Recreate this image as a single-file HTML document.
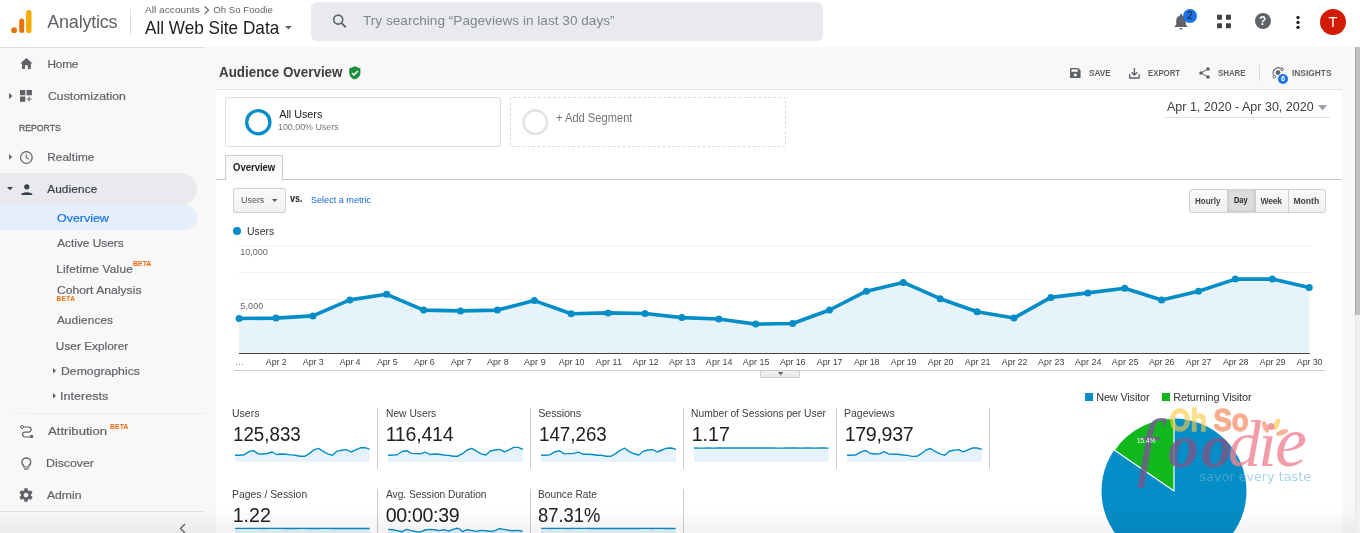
<!DOCTYPE html>
<html><head><meta charset="utf-8">
<style>
*{box-sizing:border-box;margin:0;padding:0}
html,body{width:1360px;height:533px;overflow:hidden}
body{position:relative;background:#f8f8f8;font-family:"Liberation Sans",Arial,sans-serif;color:#3c4043}
.a{position:absolute}
.t{position:absolute;white-space:nowrap;transform-origin:0 0}
svg{position:absolute;overflow:visible}
</style></head>
<body>
<!-- HEADER -->
<div class="a" style="left:0;top:0;width:1360px;height:47px;background:#fff"></div>
<svg style="left:0;top:0" width="40" height="40" viewBox="0 0 40 40">
  <circle cx="14.1" cy="30.2" r="2.9" fill="#e8710a"/>
  <rect x="19.2" y="18.6" width="5" height="14.5" rx="2.5" fill="#e8710a"/>
  <rect x="26.1" y="10" width="5.4" height="23.1" rx="2.7" fill="#f9ab00"/>
</svg>
<div class="a" style="left:130px;top:9px;width:1px;height:25px;background:#dadce0"></div>
<svg style="left:204.3px;top:5.5px" width="6" height="9" viewBox="0 0 6 9"><path d="M0.7 0.5 L4.6 4.2 L0.7 7.9" stroke="#5f6368" stroke-width="1.15" fill="none"/></svg>
<svg style="left:284.7px;top:26.4px" width="7" height="4" viewBox="0 0 7 4"><path d="M0 0 L6.9 0 L3.45 3.4Z" fill="#5f6368"/></svg>
<div class="a" style="left:311px;top:2px;width:512px;height:39px;background:#e8eaed;border-radius:6px"></div>
<svg style="left:331px;top:13px" width="17" height="17" viewBox="0 0 17 17"><circle cx="7.2" cy="6.6" r="4.5" stroke="#5f6368" stroke-width="1.6" fill="none"/><path d="M10.4 9.9 L14.8 14.4" stroke="#5f6368" stroke-width="1.8"/></svg>
<!-- right icons -->
<svg style="left:1171.3px;top:11.6px" width="20" height="20" viewBox="0 0 20 20"><path d="M10 17.5c.9 0 1.6-.7 1.6-1.6H8.4c0 .9.7 1.6 1.6 1.6zm4.8-4.8v-4c0-2.5-1.3-4.5-3.6-5V3.2c0-.7-.5-1.2-1.2-1.2s-1.2.5-1.2 1.2v.5C6.5 4.2 5.2 6.2 5.2 8.7v4L3.6 14.3v.8h12.8v-.8l-1.6-1.6z" fill="#5f6368"/></svg>
<div class="a" style="left:1183px;top:9px;width:14px;height:14px;border-radius:50%;background:#1a73e8;color:#202124;font-size:10px;line-height:14px;text-align:center">2</div>
<svg style="left:1216px;top:14px" width="16" height="16" viewBox="0 0 16 16"><g fill="#3c4043"><rect x="1.1" y="0.8" width="4.8" height="5" rx=".5"/><rect x="10" y="0.8" width="4.9" height="5" rx=".5"/><rect x="1.1" y="9.3" width="4.8" height="5" rx=".5"/><rect x="10" y="9.3" width="4.9" height="5" rx=".5"/></g></svg>
<div class="a" style="left:1254.6px;top:13.4px;width:16px;height:16px;border-radius:50%;background:#5f6368;color:#fff;font-size:12px;font-weight:bold;line-height:16px;text-align:center">?</div>
<svg style="left:1293.7px;top:14px" width="8" height="16"><circle cx="4" cy="3.5" r="1.65" fill="#202124"/><circle cx="4" cy="8.4" r="1.65" fill="#202124"/><circle cx="4" cy="13.3" r="1.65" fill="#202124"/></svg>
<div class="a" style="left:1320px;top:8.6px;width:26px;height:26px;border-radius:50%;background:#d21b05;color:#fff;font-size:14.5px;line-height:26px;text-align:center">T</div>

<!-- SIDEBAR -->
<div class="a" style="left:0;top:47px;width:204px;height:486px;background:#f8f8f9;border-top:1px solid #dadce0"></div>
<div class="a" style="left:0;top:173px;width:197px;height:31.6px;background:#e8eaed;border-radius:0 16px 16px 0"></div>
<div class="a" style="left:0;top:204.8px;width:197px;height:25.2px;background:#e5effe;border-radius:0 13px 13px 0"></div>
<div class="a" style="left:0;top:413.4px;width:204px;height:1px;background:linear-gradient(90deg,rgba(232,234,237,0),#e8eaed 45px)"></div>
<div class="a" style="left:0;top:511px;width:204px;height:1px;background:#e0e1e2"></div>
<!-- sidebar icons -->
<svg style="left:20px;top:58px" width="13" height="12" viewBox="0 0 13 12"><path d="M6.4 0 L12.6 5.6 L10.8 5.6 L10.8 11 L7.8 11 L7.8 7.2 L5 7.2 L5 11 L2 11 L2 5.6 L0.2 5.6Z" fill="#5f6368"/></svg>
<svg style="left:9px;top:93px" width="4" height="6"><path d="M0 0 L3.5 3 L0 6Z" fill="#5f6368"/></svg>
<svg style="left:20px;top:90px" width="13" height="12" viewBox="0 0 13 12"><rect x="0" y="0" width="5.3" height="5.3" fill="#5f6368"/><rect x="6.6" y="0" width="5.3" height="5.3" fill="#5f6368"/><rect x="0" y="6.5" width="5.3" height="5.3" fill="#5f6368"/><path d="M9.2 6.7 V11.5 M6.8 9.1 H11.6" stroke="#5f6368" stroke-width="1"/></svg>
<svg style="left:9px;top:154px" width="4" height="6"><path d="M0 0 L3.2 2.9 L0 5.8Z" fill="#5f6368"/></svg>
<svg style="left:20px;top:150.5px" width="13" height="13" viewBox="0 0 13 13"><circle cx="6.4" cy="6.5" r="5.8" stroke="#5f6368" stroke-width="1.2" fill="none"/><path d="M6.2 3.2 V6.8 L8.8 8.4" stroke="#5f6368" stroke-width="1.1" fill="none"/></svg>
<svg style="left:7px;top:187px" width="7" height="4"><path d="M0 0 L6 0 L3 3.2Z" fill="#3c4043"/></svg>
<svg style="left:20.5px;top:183.5px" width="12" height="12" viewBox="0 0 12 12"><circle cx="5.8" cy="2.8" r="2.6" fill="#3c4043"/><path d="M0.4 11 C0.4 7.4 11.2 7.4 11.2 11 Z" fill="#3c4043"/><rect x="0.4" y="9.6" width="10.8" height="1.4" fill="#3c4043"/></svg>
<svg style="left:52.5px;top:367.5px" width="4" height="6"><path d="M0 0 L3 2.8 L0 5.6Z" fill="#5f6368"/></svg>
<svg style="left:52.5px;top:393px" width="4" height="6"><path d="M0 0 L3 2.8 L0 5.6Z" fill="#5f6368"/></svg>
<svg style="left:19.5px;top:424.5px" width="14" height="13" viewBox="0 0 14 13"><circle cx="2" cy="2" r="1.5" stroke="#5f6368" stroke-width="1" fill="none"/><path d="M3.5 2 H8.5 A2.6 2.6 0 0 1 8.5 7.2 H5 A2.4 2.4 0 0 0 5 12 H10.5" stroke="#5f6368" stroke-width="1.2" fill="none"/><circle cx="11.6" cy="11.4" r="1.7" fill="#5f6368"/></svg>
<svg style="left:20.5px;top:457px" width="11" height="13" viewBox="0 0 11 13"><path d="M5.3 0.8 A4.4 4.4 0 0 1 7.8 8.8 V10 H2.8 V8.8 A4.4 4.4 0 0 1 5.3 0.8Z" stroke="#5f6368" stroke-width="1.2" fill="none"/><path d="M3 12 H7.6" stroke="#5f6368" stroke-width="1.2"/></svg>
<svg style="left:18.4px;top:486.6px" width="16" height="16" viewBox="0 0 24 24"><path d="M19.4 13c.04-.3.06-.6.06-1s-.02-.7-.06-1l2.1-1.6c.2-.15.25-.4.12-.6l-2-3.5c-.12-.22-.38-.3-.6-.22l-2.5 1c-.52-.4-1.08-.73-1.7-.98l-.38-2.65C14.4 2.2 14.2 2 14 2h-4c-.25 0-.46.18-.5.42l-.37 2.65c-.62.25-1.18.59-1.7.98l-2.5-1c-.23-.09-.48 0-.6.22l-2 3.46c-.13.22-.07.47.12.64L4.57 11c-.04.32-.07.65-.07 1s.03.68.07 1l-2.1 1.65c-.2.15-.25.42-.12.64l2 3.46c.12.22.38.3.6.22l2.5-1c.52.4 1.08.73 1.7.98l.37 2.65c.04.24.25.42.5.42h4c.25 0 .46-.18.5-.42l.37-2.65c.62-.25 1.18-.59 1.7-.98l2.5 1c.23.09.48 0 .6-.22l2-3.46c.12-.22.07-.49-.12-.64L19.4 13zM12 15.5c-1.93 0-3.5-1.57-3.5-3.5s1.57-3.5 3.5-3.5 3.5 1.57 3.5 3.5-1.57 3.5-3.5 3.5z" fill="#5f6368"/></svg>
<svg style="left:179px;top:523.2px" width="8" height="11"><path d="M6 1 L1.5 5.5 L6 10" stroke="#5f6368" stroke-width="1.4" fill="none"/></svg>

<!-- MAIN -->
<svg style="left:349px;top:66px" width="12" height="14" viewBox="0 0 12 14"><path d="M5.8 0.3 L11.4 2.6 V6.6 C11.4 10 9 12.6 5.8 13.4 C2.6 12.6 0.2 10 0.2 6.6 V2.6Z" fill="#1e8e3e"/><path d="M3 7 L5 9 L8.8 5" stroke="#fff" stroke-width="1.5" fill="none"/></svg>
<!-- action icons -->
<svg style="left:1069.5px;top:68px" width="11" height="10" viewBox="0 0 11 10"><path d="M0.6 0 H8.3 L10.6 2.3 V9.4 C10.6 9.7 10.3 10 10 10 H0.6 C0.3 10 0 9.7 0 9.4 V0.6 C0 0.3 0.3 0 0.6 0Z" fill="#5f6368"/><rect x="1.5" y="1.3" width="6.3" height="2.5" fill="#f8f8f8"/><circle cx="5.3" cy="7" r="1.6" fill="#f8f8f8"/></svg>
<svg style="left:1128.5px;top:67.5px" width="11" height="11" viewBox="0 0 11 11"><path d="M0.7 6 V10 H10.1 V6" stroke="#5f6368" stroke-width="1.3" fill="none"/><path d="M5.4 0 V6.8 M2.6 4.2 L5.4 7 L8.2 4.2" stroke="#5f6368" stroke-width="1.3" fill="none"/></svg>
<svg style="left:1198.5px;top:67px" width="12" height="12" viewBox="0 0 12 12"><circle cx="9" cy="2" r="1.8" fill="#5f6368"/><circle cx="2" cy="6" r="1.8" fill="#5f6368"/><circle cx="9" cy="10" r="1.8" fill="#5f6368"/><path d="M9 2 L2 6 L9 10" stroke="#5f6368" stroke-width="1" fill="none"/></svg>
<div class="a" style="left:1259px;top:65px;width:1px;height:15.5px;background:#dadce0"></div>
<svg style="left:1272px;top:67px" width="14" height="14" viewBox="0 0 14 14"><path d="M1.3 7.6 A5.4 5.4 0 0 1 8.7 1.2" stroke="#5f6368" stroke-width="1.1" fill="none"/><circle cx="6" cy="5.6" r="2.4" fill="#5f6368"/><circle cx="10.1" cy="2.3" r="1.3" stroke="#5f6368" stroke-width="1" fill="none"/><circle cx="2.3" cy="9.7" r="1.3" stroke="#5f6368" stroke-width="1" fill="none"/></svg>
<div class="a" style="left:1278px;top:73.7px;width:10px;height:10px;border-radius:50%;background:#1a73e8;color:#fff;font-size:7.5px;font-weight:bold;line-height:10px;text-align:center">6</div>

<!-- white panel -->
<div class="a" style="left:216px;top:89px;width:1126px;height:444px;background:#fff;border-top:1px solid #e3e4e4"></div>
<div class="a" style="left:1355px;top:47px;width:5px;height:486px;background:#f1f1f1;border-left:1px solid #e8e8e8"></div>
<div class="a" style="left:1355px;top:47px;width:5px;height:268px;background:#c1c1c1;border-left:1px solid #a9a9a9"></div>
<!-- segment cards -->
<div class="a" style="left:225px;top:97px;width:275.5px;height:49.5px;border:1px solid #dcdedf;border-radius:3px"></div>
<svg style="left:244px;top:108px" width="29" height="29"><circle cx="14.3" cy="14.2" r="11.6" stroke="#058dc7" stroke-width="3.3" fill="none"/></svg>
<div class="a" style="left:509.5px;top:97px;width:276px;height:49.5px;border:1px dashed #dadce0;border-radius:3px"></div>
<svg style="left:521px;top:108px" width="29" height="29"><circle cx="14.3" cy="14.2" r="11.8" stroke="#e3e5e4" stroke-width="2.6" fill="none"/></svg>
<svg style="left:1318px;top:104.5px" width="10" height="6"><path d="M0.2 0 L9 0 L4.6 5.6Z" fill="#9aa0a6"/></svg>
<div class="a" style="left:1165px;top:117px;width:165px;height:1px;background:#e0e0e0"></div>
<!-- tab -->
<div class="a" style="left:216px;top:179px;width:1126px;height:1px;background:#c6c6c6"></div>
<div class="a" style="left:225px;top:155px;width:58px;height:25px;border:1px solid #ccc;border-bottom:none;background:linear-gradient(#f6f6f6,#fdfdfd)"></div>
<!-- users dropdown -->
<div class="a" style="left:233px;top:188px;width:53px;height:25px;border:1px solid #d0d0d0;border-radius:2px;background:linear-gradient(#fafafa,#f0f0f0)"></div>
<svg style="left:271.5px;top:199px" width="6" height="4"><path d="M0 0 L5.4 0 L2.7 2.9Z" fill="#555"/></svg>
<div class="a" style="left:233px;top:227px;width:8px;height:8px;border-radius:50%;background:#058dc7"></div>
<!-- hourly group -->
<div class="a" style="left:1188.5px;top:188.5px;width:137px;height:24px;border:1px solid #d0d0d0;border-radius:3px;background:linear-gradient(#fafafa,#f0f0f0)"></div>
<div class="a" style="left:1227.5px;top:189px;width:27.5px;height:23px;background:#dcdcdc;box-shadow:inset 0 0 3px #bbb"></div>
<div class="a" style="left:1227px;top:189px;width:1px;height:23px;background:#d0d0d0"></div>
<div class="a" style="left:1254.5px;top:189px;width:1px;height:23px;background:#d0d0d0"></div>
<div class="a" style="left:1288px;top:189px;width:1px;height:23px;background:#d0d0d0"></div>
<!-- chart -->
<svg style="left:0;top:0" width="1360" height="533">
  <g stroke="#f0f0f0" stroke-width="1">
    <line x1="239" y1="245.5" x2="1310" y2="245.5"/>
    <line x1="239" y1="272.5" x2="1310" y2="272.5"/>
    <line x1="239" y1="299.5" x2="1310" y2="299.5"/>
    <line x1="239" y1="326.5" x2="1310" y2="326.5"/>
  </g>
  <polygon points="239.1,353 239.1,318.5 276.0,318.1 312.9,315.9 349.8,299.9 386.7,294.3 423.6,310.1 460.5,310.9 497.4,310.1 534.3,300.6 571.2,313.7 608.1,312.9 645.0,313.5 681.9,317.6 718.8,319.0 755.7,324.1 792.6,323.5 829.5,310.0 866.4,291.2 903.3,282.4 940.2,298.7 977.1,311.8 1014.0,318.0 1050.9,297.4 1087.8,292.9 1124.7,288.2 1161.6,300.0 1198.5,291.2 1235.4,279.1 1272.3,279.1 1309.2,287.5 1309.2,353" fill="#e6f3fa"/>
  <line x1="239" y1="353.5" x2="1310" y2="353.5" stroke="#444" stroke-width="1"/>
  <polyline points="239.1,318.5 276.0,318.1 312.9,315.9 349.8,299.9 386.7,294.3 423.6,310.1 460.5,310.9 497.4,310.1 534.3,300.6 571.2,313.7 608.1,312.9 645.0,313.5 681.9,317.6 718.8,319.0 755.7,324.1 792.6,323.5 829.5,310.0 866.4,291.2 903.3,282.4 940.2,298.7 977.1,311.8 1014.0,318.0 1050.9,297.4 1087.8,292.9 1124.7,288.2 1161.6,300.0 1198.5,291.2 1235.4,279.1 1272.3,279.1 1309.2,287.5" fill="none" stroke="#058dc7" stroke-width="3.6" stroke-linejoin="round"/>
  <g fill="#058dc7"><circle cx="239.1" cy="318.5" r="3.5"/><circle cx="276.0" cy="318.1" r="3.5"/><circle cx="312.9" cy="315.9" r="3.5"/><circle cx="349.8" cy="299.9" r="3.5"/><circle cx="386.7" cy="294.3" r="3.5"/><circle cx="423.6" cy="310.1" r="3.5"/><circle cx="460.5" cy="310.9" r="3.5"/><circle cx="497.4" cy="310.1" r="3.5"/><circle cx="534.3" cy="300.6" r="3.5"/><circle cx="571.2" cy="313.7" r="3.5"/><circle cx="608.1" cy="312.9" r="3.5"/><circle cx="645.0" cy="313.5" r="3.5"/><circle cx="681.9" cy="317.6" r="3.5"/><circle cx="718.8" cy="319.0" r="3.5"/><circle cx="755.7" cy="324.1" r="3.5"/><circle cx="792.6" cy="323.5" r="3.5"/><circle cx="829.5" cy="310.0" r="3.5"/><circle cx="866.4" cy="291.2" r="3.5"/><circle cx="903.3" cy="282.4" r="3.5"/><circle cx="940.2" cy="298.7" r="3.5"/><circle cx="977.1" cy="311.8" r="3.5"/><circle cx="1014.0" cy="318.0" r="3.5"/><circle cx="1050.9" cy="297.4" r="3.5"/><circle cx="1087.8" cy="292.9" r="3.5"/><circle cx="1124.7" cy="288.2" r="3.5"/><circle cx="1161.6" cy="300.0" r="3.5"/><circle cx="1198.5" cy="291.2" r="3.5"/><circle cx="1235.4" cy="279.1" r="3.5"/><circle cx="1272.3" cy="279.1" r="3.5"/><circle cx="1309.2" cy="287.5" r="3.5"/></g>
  <line x1="234" y1="370.5" x2="1325" y2="370.5" stroke="#ccc" stroke-width="1"/>
  <polygon points="235.0,461.8 235.0,455.3 239.6,455.2 244.3,454.8 248.9,451.6 253.6,450.6 258.2,453.9 262.8,454.0 267.5,453.5 272.1,452.0 276.8,454.5 281.4,454.0 286.1,454.3 290.7,454.9 295.3,455.3 300.0,456.3 304.6,456.3 309.3,453.6 313.9,449.8 318.5,448.4 323.2,451.3 327.8,453.9 332.5,455.3 337.1,451.1 341.8,450.3 346.4,449.6 351.0,452.0 355.7,449.8 360.3,447.8 365.0,447.6 369.6,449.1 369.6,461.8" fill="#e5f2fa"/><polyline points="235.0,455.3 239.6,455.2 244.3,454.8 248.9,451.6 253.6,450.6 258.2,453.9 262.8,454.0 267.5,453.5 272.1,452.0 276.8,454.5 281.4,454.0 286.1,454.3 290.7,454.9 295.3,455.3 300.0,456.3 304.6,456.3 309.3,453.6 313.9,449.8 318.5,448.4 323.2,451.3 327.8,453.9 332.5,455.3 337.1,451.1 341.8,450.3 346.4,449.6 351.0,452.0 355.7,449.8 360.3,447.8 365.0,447.6 369.6,449.1" fill="none" stroke="#058dc7" stroke-width="1.4" stroke-linejoin="round"/><polygon points="388.0,461.8 388.0,455.2 392.7,455.0 397.3,454.8 402.0,451.5 406.6,450.7 411.3,453.4 415.9,453.6 420.6,453.8 425.2,452.1 429.9,454.5 434.6,454.0 439.2,454.3 443.9,455.0 448.5,455.4 453.2,456.3 457.8,456.2 462.5,453.7 467.1,450.0 471.8,448.3 476.4,451.2 481.1,453.9 485.8,455.0 490.4,451.0 495.1,450.0 499.7,449.4 504.4,451.9 509.0,449.8 513.7,447.4 518.3,447.4 523.0,449.3 523.0,461.8" fill="#e5f2fa"/><polyline points="388.0,455.2 392.7,455.0 397.3,454.8 402.0,451.5 406.6,450.7 411.3,453.4 415.9,453.6 420.6,453.8 425.2,452.1 429.9,454.5 434.6,454.0 439.2,454.3 443.9,455.0 448.5,455.4 453.2,456.3 457.8,456.2 462.5,453.7 467.1,450.0 471.8,448.3 476.4,451.2 481.1,453.9 485.8,455.0 490.4,451.0 495.1,450.0 499.7,449.4 504.4,451.9 509.0,449.8 513.7,447.4 518.3,447.4 523.0,449.3" fill="none" stroke="#058dc7" stroke-width="1.4" stroke-linejoin="round"/><polygon points="541.0,461.8 541.0,455.2 545.7,455.3 550.3,454.6 555.0,451.7 559.6,450.8 564.3,453.9 568.9,453.6 573.6,453.4 578.2,452.1 582.9,454.2 587.6,454.2 592.2,454.5 596.9,455.2 601.5,455.2 606.2,456.2 610.8,456.3 615.5,453.6 620.1,450.4 624.8,448.2 629.4,451.6 634.1,453.8 638.8,455.0 643.4,451.2 648.1,450.0 652.7,449.6 657.4,452.0 662.0,450.0 666.7,448.2 671.3,448.0 676.0,449.4 676.0,461.8" fill="#e5f2fa"/><polyline points="541.0,455.2 545.7,455.3 550.3,454.6 555.0,451.7 559.6,450.8 564.3,453.9 568.9,453.6 573.6,453.4 578.2,452.1 582.9,454.2 587.6,454.2 592.2,454.5 596.9,455.2 601.5,455.2 606.2,456.2 610.8,456.3 615.5,453.6 620.1,450.4 624.8,448.2 629.4,451.6 634.1,453.8 638.8,455.0 643.4,451.2 648.1,450.0 652.7,449.6 657.4,452.0 662.0,450.0 666.7,448.2 671.3,448.0 676.0,449.4" fill="none" stroke="#058dc7" stroke-width="1.4" stroke-linejoin="round"/><polygon points="694.1,461.8 694.1,448.0 698.7,448.1 703.4,448.1 708.0,448.0 712.7,448.1 717.3,448.0 721.9,448.0 726.6,448.0 731.2,448.0 735.8,448.0 740.5,448.0 745.1,448.0 749.8,448.0 754.4,448.0 759.0,448.0 763.7,448.0 768.3,448.0 772.9,448.0 777.6,448.1 782.2,448.1 786.9,448.0 791.5,448.0 796.1,448.0 800.8,448.1 805.4,448.0 810.0,448.0 814.7,448.1 819.3,448.0 824.0,448.0 828.6,448.1 828.6,461.8" fill="#e5f2fa"/><polyline points="694.1,448.0 698.7,448.1 703.4,448.1 708.0,448.0 712.7,448.1 717.3,448.0 721.9,448.0 726.6,448.0 731.2,448.0 735.8,448.0 740.5,448.0 745.1,448.0 749.8,448.0 754.4,448.0 759.0,448.0 763.7,448.0 768.3,448.0 772.9,448.0 777.6,448.1 782.2,448.1 786.9,448.0 791.5,448.0 796.1,448.0 800.8,448.1 805.4,448.0 810.0,448.0 814.7,448.1 819.3,448.0 824.0,448.0 828.6,448.1" fill="none" stroke="#058dc7" stroke-width="1.4" stroke-linejoin="round"/><polygon points="847.1,461.8 847.1,455.2 851.7,455.2 856.4,454.7 861.0,451.8 865.7,450.5 870.3,453.5 875.0,454.0 879.6,453.9 884.3,451.7 888.9,454.1 893.5,454.3 898.2,454.3 902.8,455.0 907.5,455.4 912.1,456.4 916.8,456.3 921.4,453.7 926.1,450.0 930.7,448.5 935.4,451.6 940.0,453.8 944.6,455.3 949.3,451.2 953.9,450.2 958.6,449.6 963.2,451.9 967.9,449.8 972.5,448.0 977.2,448.0 981.8,449.4 981.8,461.8" fill="#e5f2fa"/><polyline points="847.1,455.2 851.7,455.2 856.4,454.7 861.0,451.8 865.7,450.5 870.3,453.5 875.0,454.0 879.6,453.9 884.3,451.7 888.9,454.1 893.5,454.3 898.2,454.3 902.8,455.0 907.5,455.4 912.1,456.4 916.8,456.3 921.4,453.7 926.1,450.0 930.7,448.5 935.4,451.6 940.0,453.8 944.6,455.3 949.3,451.2 953.9,450.2 958.6,449.6 963.2,451.9 967.9,449.8 972.5,448.0 977.2,448.0 981.8,449.4" fill="none" stroke="#058dc7" stroke-width="1.4" stroke-linejoin="round"/><polygon points="235.1,545 235.1,528.4 239.7,528.4 244.4,528.4 249.0,528.4 253.7,528.4 258.3,528.4 262.9,528.5 267.6,528.4 272.2,528.4 276.8,528.4 281.5,528.4 286.1,528.5 290.8,528.4 295.4,528.5 300.0,528.4 304.7,528.4 309.3,528.5 313.9,528.5 318.6,528.5 323.2,528.4 327.9,528.4 332.5,528.5 337.1,528.4 341.8,528.5 346.4,528.4 351.0,528.5 355.7,528.5 360.3,528.4 365.0,528.5 369.6,528.5 369.6,545" fill="#e5f2fa"/><polyline points="235.1,528.4 239.7,528.4 244.4,528.4 249.0,528.4 253.7,528.4 258.3,528.4 262.9,528.5 267.6,528.4 272.2,528.4 276.8,528.4 281.5,528.4 286.1,528.5 290.8,528.4 295.4,528.5 300.0,528.4 304.7,528.4 309.3,528.5 313.9,528.5 318.6,528.5 323.2,528.4 327.9,528.4 332.5,528.5 337.1,528.4 341.8,528.5 346.4,528.4 351.0,528.5 355.7,528.5 360.3,528.4 365.0,528.5 369.6,528.5" fill="none" stroke="#058dc7" stroke-width="1.4" stroke-linejoin="round"/><polygon points="388.1,545 388.1,529.4 392.4,529.7 397.0,530.6 402.1,531.7 406.6,529.4 411.2,530.6 415.2,531.5 420.3,532.1 424.9,530.0 430.0,529.4 434.6,529.7 439.1,530.6 443.7,529.7 448.8,531.2 452.8,529.4 456.8,528.3 459.6,528.9 462.5,531.7 467.0,529.7 472.2,530.6 476.7,531.4 481.3,530.4 485.9,530.8 491.0,531.5 495.0,530.6 499.5,528.7 504.1,529.4 508.6,530.2 513.2,530.8 517.8,530.4 522.6,531.2 522.6,545" fill="#e5f2fa"/><polyline points="388.1,529.4 392.4,529.7 397.0,530.6 402.1,531.7 406.6,529.4 411.2,530.6 415.2,531.5 420.3,532.1 424.9,530.0 430.0,529.4 434.6,529.7 439.1,530.6 443.7,529.7 448.8,531.2 452.8,529.4 456.8,528.3 459.6,528.9 462.5,531.7 467.0,529.7 472.2,530.6 476.7,531.4 481.3,530.4 485.9,530.8 491.0,531.5 495.0,530.6 499.5,528.7 504.1,529.4 508.6,530.2 513.2,530.8 517.8,530.4 522.6,531.2" fill="none" stroke="#058dc7" stroke-width="1.4" stroke-linejoin="round"/><polygon points="541.1,545 541.1,528.4 545.7,528.4 550.4,528.5 555.0,528.4 559.7,528.4 564.3,528.4 568.9,528.5 573.6,528.4 578.2,528.4 582.8,528.4 587.5,528.4 592.1,528.5 596.8,528.4 601.4,528.5 606.0,528.5 610.7,528.5 615.3,528.5 619.9,528.4 624.6,528.5 629.2,528.4 633.9,528.5 638.5,528.5 643.1,528.4 647.8,528.4 652.4,528.5 657.0,528.4 661.7,528.4 666.3,528.5 671.0,528.4 675.6,528.5 675.6,545" fill="#e5f2fa"/><polyline points="541.1,528.4 545.7,528.4 550.4,528.5 555.0,528.4 559.7,528.4 564.3,528.4 568.9,528.5 573.6,528.4 578.2,528.4 582.8,528.4 587.5,528.4 592.1,528.5 596.8,528.4 601.4,528.5 606.0,528.5 610.7,528.5 615.3,528.5 619.9,528.4 624.6,528.5 629.2,528.4 633.9,528.5 638.5,528.5 643.1,528.4 647.8,528.4 652.4,528.5 657.0,528.4 661.7,528.4 666.3,528.5 671.0,528.4 675.6,528.5" fill="none" stroke="#058dc7" stroke-width="1.4" stroke-linejoin="round"/>
</svg>
<div class="a" style="left:760px;top:371px;width:40px;height:7px;border:1px solid #ccc;border-top:none;border-radius:0 0 2px 2px;background:linear-gradient(#f2f2f2,#e9e9e9)"></div>
<svg style="left:777.6px;top:372.2px" width="6" height="4"><path d="M0 0 L5.4 0 L2.7 3.5Z" fill="#666"/></svg>
<div class="t" style="left:235px;top:357px;font-size:9px;color:#777">…</div>
<!-- metric dividers -->
<div class="a" style="left:377px;top:408px;width:1px;height:61px;background:#ccc"></div>
<div class="a" style="left:530px;top:408px;width:1px;height:61px;background:#ccc"></div>
<div class="a" style="left:683px;top:408px;width:1px;height:61px;background:#ccc"></div>
<div class="a" style="left:836px;top:408px;width:1px;height:61px;background:#ccc"></div>
<div class="a" style="left:989px;top:408px;width:1px;height:61px;background:#ccc"></div>
<div class="a" style="left:377px;top:489px;width:1px;height:44px;background:#ccc"></div>
<div class="a" style="left:530px;top:489px;width:1px;height:44px;background:#ccc"></div>
<div class="a" style="left:683px;top:489px;width:1px;height:44px;background:#ccc"></div>
<!-- pie -->
<div class="a" style="left:1085px;top:393px;width:8px;height:8px;background:#058dc7"></div>
<div class="a" style="left:1162px;top:393px;width:8px;height:8px;background:#10b81e"></div>
<svg style="left:0;top:0" width="1360" height="533">
  <circle cx="1174" cy="491" r="72.5" fill="#058dc7"/>
  <path d="M1174 491 L1174 418.5 A72.5 72.5 0 0 0 1114.3 449.9 Z" fill="#10b81e" stroke="#fff" stroke-width="1.2" stroke-linejoin="round"/>
</svg>
<!-- watermark -->
<svg style="left:0;top:0" width="1360" height="533">
  <g opacity=".62"><text x="1169.5" y="431" font-family="Liberation Sans" font-weight="bold" font-size="31" fill="#f9cc45" stroke="#f9cc45" stroke-width="1.3" stroke-linejoin="round" textLength="37.5" lengthAdjust="spacingAndGlyphs">Oh</text></g>
  <g opacity=".7"><text x="1213.5" y="431" font-family="Liberation Sans" font-weight="bold" font-size="31" fill="#f58a5e" stroke="#f58a5e" stroke-width="1.3" stroke-linejoin="round" textLength="35" lengthAdjust="spacingAndGlyphs">So</text></g>
  <g opacity=".65">
  <ellipse cx="1265.5" cy="427" rx="2.8" ry="6.3" transform="rotate(-22 1265.5 427)" fill="#f58a5e"/>
  <ellipse cx="1276.5" cy="424.5" rx="2.8" ry="6.5" transform="rotate(22 1276.5 424.5)" fill="#f9cc45"/>
  <ellipse cx="1282" cy="432.5" rx="2.6" ry="6.3" transform="rotate(72 1282 432.5)" fill="#f58a5e"/>
  </g>
  <text font-family="Liberation Serif" font-style="italic" font-size="66" fill="#735a8c" fill-opacity=".85"><tspan x="1136.8" y="471.5" font-size="76">f</tspan><tspan x="1168" y="466.5" font-size="62" font-weight="bold">o</tspan><tspan x="1201" y="466.5" font-size="62" font-weight="bold">o</tspan><tspan x="1228" y="466" fill="#ee8394" fill-opacity=".8">d</tspan><tspan x="1258.3" y="466" fill="#ee8394" fill-opacity=".8">i</tspan><tspan x="1275" y="466" font-size="72" fill="#ee8394" fill-opacity=".8">e</tspan></text>
  <text x="1199.5" y="481" font-family="DejaVu Sans Condensed,DejaVu Sans" font-size="13" fill="#6fb8d4" fill-opacity=".6" textLength="111.5" lengthAdjust="spacingAndGlyphs">savor every taste</text>
</svg>
<div class="t" style="left:1137px;top:437px;font-size:6.5px;color:#fff">15.4%</div>
<!-- bottom fade -->
<div id="an" class="t" style="left:47.26px;top:12.86px;font-size:18px;line-height:18px;color:#5f6368;font-weight:400;letter-spacing:-0.211px;">Analytics</div>
<div id="bc1" class="t" style="left:145.35px;top:4.95px;font-size:9.6px;line-height:9.6px;color:#5f6368;font-weight:400;letter-spacing:0.000px;transform:scaleX(1.0582);">All accounts</div>
<div id="bc2" class="t" style="left:213.32px;top:4.95px;font-size:9.6px;line-height:9.6px;color:#5f6368;font-weight:400;letter-spacing:0.021px;">Oh So Foodie</div>
<div id="awsd" class="t" style="left:144.93px;top:18.93px;font-size:18.2px;line-height:18.2px;color:#202124;font-weight:400;letter-spacing:0.000px;transform:scaleX(0.9437);">All Web Site Data</div>
<div id="srch" class="t" style="left:362.77px;top:14.18px;font-size:13.2px;line-height:13.2px;color:#80868b;font-weight:400;letter-spacing:0.000px;transform:scaleX(1.0327);">Try searching “Pageviews in last 30 days”</div>
<div id="n_home" class="t" style="left:47.41px;top:59.37px;font-size:11.8px;line-height:11.8px;color:#5f6368;font-weight:400;letter-spacing:-0.157px;-webkit-text-stroke:.2px;">Home</div>
<div id="n_cust" class="t" style="left:47.55px;top:91.27px;font-size:11.8px;line-height:11.8px;color:#5f6368;font-weight:400;letter-spacing:0.000px;transform:scaleX(1.0410);-webkit-text-stroke:.2px;">Customization</div>
<div id="n_rep" class="t" style="left:18.82px;top:123.05px;font-size:9.6px;line-height:9.6px;color:#5f6368;font-weight:400;letter-spacing:0.000px;transform:scaleX(0.9045);-webkit-text-stroke:.35px;">REPORTS</div>
<div id="n_real" class="t" style="left:47.14px;top:151.77px;font-size:11.8px;line-height:11.8px;color:#5f6368;font-weight:400;letter-spacing:0.102px;-webkit-text-stroke:.2px;">Realtime</div>
<div id="n_aud" class="t" style="left:47.17px;top:184.47px;font-size:11.8px;line-height:11.8px;color:#3c4043;font-weight:400;letter-spacing:0.129px;-webkit-text-stroke:.2px;">Audience</div>
<div id="n_ov" class="t" style="left:56.96px;top:212.57px;font-size:11.8px;line-height:11.8px;color:#1a73e8;font-weight:400;letter-spacing:0.000px;transform:scaleX(1.0536);-webkit-text-stroke:.2px;">Overview</div>
<div id="n_act" class="t" style="left:57.17px;top:237.67px;font-size:11.8px;line-height:11.8px;color:#5f6368;font-weight:400;letter-spacing:0.021px;-webkit-text-stroke:.2px;">Active Users</div>
<div id="n_ltv" class="t" style="left:56.14px;top:264.27px;font-size:11.8px;line-height:11.8px;color:#5f6368;font-weight:400;letter-spacing:0.212px;-webkit-text-stroke:.2px;">Lifetime Value</div>
<div id="b_ltv" class="t" style="left:133.37px;top:261.45px;font-size:6.5px;line-height:6.5px;color:#ec6c0c;font-weight:700;letter-spacing:0.000px;transform:scaleX(1.0683);">BETA</div>
<div id="n_coh" class="t" style="left:56.57px;top:285.27px;font-size:11.8px;line-height:11.8px;color:#5f6368;font-weight:400;letter-spacing:0.000px;transform:scaleX(1.0305);-webkit-text-stroke:.2px;">Cohort Analysis</div>
<div id="b_coh" class="t" style="left:56.46px;top:295.65px;font-size:6.5px;line-height:6.5px;color:#ec6c0c;font-weight:700;letter-spacing:0.408px;">BETA</div>
<div id="n_auds" class="t" style="left:56.89px;top:315.17px;font-size:11.8px;line-height:11.8px;color:#5f6368;font-weight:400;letter-spacing:0.130px;-webkit-text-stroke:.2px;">Audiences</div>
<div id="n_ue" class="t" style="left:55.86px;top:341.17px;font-size:11.8px;line-height:11.8px;color:#5f6368;font-weight:400;letter-spacing:0.019px;-webkit-text-stroke:.2px;">User Explorer</div>
<div id="n_demo" class="t" style="left:60.54px;top:366.07px;font-size:11.8px;line-height:11.8px;color:#5f6368;font-weight:400;letter-spacing:0.000px;transform:scaleX(1.0368);-webkit-text-stroke:.2px;">Demographics</div>
<div id="n_int" class="t" style="left:60.48px;top:390.77px;font-size:11.8px;line-height:11.8px;color:#5f6368;font-weight:400;letter-spacing:0.000px;transform:scaleX(1.0664);-webkit-text-stroke:.2px;">Interests</div>
<div id="n_attr" class="t" style="left:47.52px;top:426.07px;font-size:11.8px;line-height:11.8px;color:#5f6368;font-weight:400;letter-spacing:0.000px;transform:scaleX(1.1137);-webkit-text-stroke:.2px;">Attribution</div>
<div id="b_attr" class="t" style="left:110.20px;top:424.35px;font-size:6.5px;line-height:6.5px;color:#ec6c0c;font-weight:700;letter-spacing:0.000px;transform:scaleX(1.0684);">BETA</div>
<div id="n_disc" class="t" style="left:46.45px;top:458.47px;font-size:11.8px;line-height:11.8px;color:#5f6368;font-weight:400;letter-spacing:0.000px;transform:scaleX(1.0450);-webkit-text-stroke:.2px;">Discover</div>
<div id="n_adm" class="t" style="left:47.48px;top:490.27px;font-size:11.8px;line-height:11.8px;color:#5f6368;font-weight:400;letter-spacing:0.000px;transform:scaleX(1.0303);-webkit-text-stroke:.2px;">Admin</div>
<div id="title" class="t" style="left:219.33px;top:65.38px;font-size:14.8px;line-height:14.8px;color:#3c4043;font-weight:700;letter-spacing:0.000px;transform:scaleX(0.9043);">Audience Overview</div>
<div id="save" class="t" style="left:1089.25px;top:68.63px;font-size:9px;line-height:9px;color:#5f6368;font-weight:700;letter-spacing:0.000px;transform:scaleX(0.9152);">SAVE</div>
<div id="export" class="t" style="left:1148.07px;top:68.63px;font-size:9px;line-height:9px;color:#5f6368;font-weight:700;letter-spacing:0.000px;transform:scaleX(0.8655);">EXPORT</div>
<div id="share" class="t" style="left:1218.25px;top:68.73px;font-size:9px;line-height:9px;color:#5f6368;font-weight:700;letter-spacing:0.000px;transform:scaleX(0.8722);">SHARE</div>
<div id="insights" class="t" style="left:1292.06px;top:68.73px;font-size:9px;line-height:9px;color:#5f6368;font-weight:700;letter-spacing:0.000px;transform:scaleX(0.9294);">INSIGHTS</div>
<div id="allu" class="t" style="left:279.24px;top:108.90px;font-size:10.8px;line-height:10.8px;color:#202124;font-weight:400;letter-spacing:-0.011px;">All Users</div>
<div id="allu2" class="t" style="left:278.37px;top:123.19px;font-size:9.3px;line-height:9.3px;color:#757575;font-weight:400;letter-spacing:0.000px;transform:scaleX(0.9528);">100.00% Users</div>
<div id="addseg" class="t" style="left:555.93px;top:111.86px;font-size:12.6px;line-height:12.6px;color:#757575;font-weight:400;letter-spacing:0.000px;transform:scaleX(0.8837);">+ Add Segment</div>
<div id="date" class="t" style="left:1167.17px;top:100.20px;font-size:13.1px;line-height:13.1px;color:#3c4043;font-weight:400;letter-spacing:0.000px;transform:scaleX(0.9543);">Apr 1, 2020 - Apr 30, 2020</div>
<div id="tabov" class="t" style="left:232.84px;top:161.53px;font-size:11.3px;line-height:11.3px;color:#222;font-weight:700;letter-spacing:0.000px;transform:scaleX(0.8406);">Overview</div>
<div id="usersbtn" class="t" style="left:240.70px;top:195.24px;font-size:9.7px;line-height:9.7px;color:#555;font-weight:400;letter-spacing:0.000px;transform:scaleX(0.9227);">Users</div>
<div id="vs" class="t" style="left:289.84px;top:192.73px;font-size:10.5px;line-height:10.5px;color:#222;font-weight:700;letter-spacing:0.000px;transform:scaleX(0.8639);">vs.</div>
<div id="selm" class="t" style="left:310.82px;top:195.24px;font-size:9.7px;line-height:9.7px;color:#1967d2;font-weight:400;letter-spacing:0.000px;transform:scaleX(0.9370);">Select a metric</div>
<div id="leg" class="t" style="left:246.82px;top:225.94px;font-size:11.2px;line-height:11.2px;color:#333;font-weight:400;letter-spacing:0.000px;transform:scaleX(0.9325);">Users</div>
<div id="y10" class="t" style="left:240.30px;top:247.63px;font-size:9px;line-height:9px;color:#666;font-weight:400;letter-spacing:-0.000px;">10,000</div>
<div id="y5" class="t" style="left:240.37px;top:301.93px;font-size:9px;line-height:9px;color:#666;font-weight:400;letter-spacing:0.106px;">5,000</div>
<div id="hourly" class="t" style="left:1194.72px;top:196.58px;font-size:8.6px;line-height:8.6px;color:#444;font-weight:700;letter-spacing:0.000px;transform:scaleX(0.9353);">Hourly</div>
<div id="day" class="t" style="left:1233.90px;top:195.58px;font-size:8.6px;line-height:8.6px;color:#222;font-weight:700;letter-spacing:0.000px;transform:scaleX(0.8647);">Day</div>
<div id="week" class="t" style="left:1260.42px;top:196.58px;font-size:8.6px;line-height:8.6px;color:#444;font-weight:700;letter-spacing:-0.213px;">Week</div>
<div id="month" class="t" style="left:1293.39px;top:196.58px;font-size:8.6px;line-height:8.6px;color:#444;font-weight:700;letter-spacing:0.029px;">Month</div>
<div id="x2" class="t" style="left:265.86px;top:357.54px;font-size:8.9px;line-height:8.9px;color:#444;font-weight:400;letter-spacing:-0.125px;">Apr 2</div>
<div id="x3" class="t" style="left:302.87px;top:357.54px;font-size:8.9px;line-height:8.9px;color:#444;font-weight:400;letter-spacing:-0.125px;">Apr 3</div>
<div id="x4" class="t" style="left:339.84px;top:357.54px;font-size:8.9px;line-height:8.9px;color:#444;font-weight:400;letter-spacing:-0.125px;">Apr 4</div>
<div id="x5" class="t" style="left:376.90px;top:357.54px;font-size:8.9px;line-height:8.9px;color:#444;font-weight:400;letter-spacing:-0.125px;">Apr 5</div>
<div id="x6" class="t" style="left:413.88px;top:357.54px;font-size:8.9px;line-height:8.9px;color:#444;font-weight:400;letter-spacing:-0.125px;">Apr 6</div>
<div id="x7" class="t" style="left:450.90px;top:357.54px;font-size:8.9px;line-height:8.9px;color:#444;font-weight:400;letter-spacing:-0.117px;">Apr 7</div>
<div id="x8" class="t" style="left:486.91px;top:357.54px;font-size:8.9px;line-height:8.9px;color:#444;font-weight:400;letter-spacing:0.125px;">Apr 8</div>
<div id="x9" class="t" style="left:523.91px;top:357.54px;font-size:8.9px;line-height:8.9px;color:#444;font-weight:400;letter-spacing:0.133px;">Apr 9</div>
<div id="x10" class="t" style="left:558.85px;top:357.54px;font-size:8.9px;line-height:8.9px;color:#444;font-weight:400;letter-spacing:-0.088px;">Apr 10</div>
<div id="x11" class="t" style="left:595.86px;top:357.54px;font-size:8.9px;line-height:8.9px;color:#444;font-weight:400;letter-spacing:0.100px;">Apr 11</div>
<div id="x12" class="t" style="left:632.87px;top:357.54px;font-size:8.9px;line-height:8.9px;color:#444;font-weight:400;letter-spacing:-0.100px;">Apr 12</div>
<div id="x13" class="t" style="left:668.88px;top:357.54px;font-size:8.9px;line-height:8.9px;color:#444;font-weight:400;letter-spacing:0.100px;">Apr 13</div>
<div id="x14" class="t" style="left:705.87px;top:357.54px;font-size:8.9px;line-height:8.9px;color:#444;font-weight:400;letter-spacing:0.100px;">Apr 14</div>
<div id="x15" class="t" style="left:742.87px;top:357.54px;font-size:8.9px;line-height:8.9px;color:#444;font-weight:400;letter-spacing:0.100px;">Apr 15</div>
<div id="x16" class="t" style="left:779.89px;top:357.54px;font-size:8.9px;line-height:8.9px;color:#444;font-weight:400;letter-spacing:-0.100px;">Apr 16</div>
<div id="x17" class="t" style="left:816.86px;top:357.54px;font-size:8.9px;line-height:8.9px;color:#444;font-weight:400;letter-spacing:-0.100px;">Apr 17</div>
<div id="x18" class="t" style="left:853.88px;top:357.54px;font-size:8.9px;line-height:8.9px;color:#444;font-weight:400;letter-spacing:-0.100px;">Apr 18</div>
<div id="x19" class="t" style="left:890.86px;top:357.54px;font-size:8.9px;line-height:8.9px;color:#444;font-weight:400;letter-spacing:-0.100px;">Apr 19</div>
<div id="x20" class="t" style="left:927.85px;top:357.54px;font-size:8.9px;line-height:8.9px;color:#444;font-weight:400;letter-spacing:-0.088px;">Apr 20</div>
<div id="x21" class="t" style="left:964.85px;top:357.54px;font-size:8.9px;line-height:8.9px;color:#444;font-weight:400;letter-spacing:-0.100px;">Apr 21</div>
<div id="x22" class="t" style="left:1001.87px;top:357.54px;font-size:8.9px;line-height:8.9px;color:#444;font-weight:400;letter-spacing:-0.100px;">Apr 22</div>
<div id="x23" class="t" style="left:1037.88px;top:357.54px;font-size:8.9px;line-height:8.9px;color:#444;font-weight:400;letter-spacing:0.100px;">Apr 23</div>
<div id="x24" class="t" style="left:1074.89px;top:357.54px;font-size:8.9px;line-height:8.9px;color:#444;font-weight:400;letter-spacing:0.100px;">Apr 24</div>
<div id="x25" class="t" style="left:1111.87px;top:357.54px;font-size:8.9px;line-height:8.9px;color:#444;font-weight:400;letter-spacing:0.100px;">Apr 25</div>
<div id="x26" class="t" style="left:1148.89px;top:357.54px;font-size:8.9px;line-height:8.9px;color:#444;font-weight:400;letter-spacing:-0.100px;">Apr 26</div>
<div id="x27" class="t" style="left:1185.86px;top:357.54px;font-size:8.9px;line-height:8.9px;color:#444;font-weight:400;letter-spacing:-0.100px;">Apr 27</div>
<div id="x28" class="t" style="left:1222.88px;top:357.54px;font-size:8.9px;line-height:8.9px;color:#444;font-weight:400;letter-spacing:-0.100px;">Apr 28</div>
<div id="x29" class="t" style="left:1259.86px;top:357.54px;font-size:8.9px;line-height:8.9px;color:#444;font-weight:400;letter-spacing:-0.100px;">Apr 29</div>
<div id="x30" class="t" style="left:1296.85px;top:357.54px;font-size:8.9px;line-height:8.9px;color:#444;font-weight:400;letter-spacing:-0.088px;">Apr 30</div>
<div id="ml0" class="t" style="left:232.27px;top:407.93px;font-size:10.9px;line-height:10.9px;color:#3c4043;font-weight:400;letter-spacing:0.000px;transform:scaleX(0.9630);">Users</div>
<div id="mv0" class="t" style="left:232.62px;top:424.65px;font-size:19.6px;line-height:19.6px;color:#202124;font-weight:400;letter-spacing:0.000px;transform:scaleX(0.9565);">125,833</div>
<div id="ml1" class="t" style="left:385.57px;top:407.93px;font-size:10.9px;line-height:10.9px;color:#3c4043;font-weight:400;letter-spacing:0.000px;transform:scaleX(0.9423);">New Users</div>
<div id="mv1" class="t" style="left:385.65px;top:424.65px;font-size:19.6px;line-height:19.6px;color:#202124;font-weight:400;letter-spacing:-0.223px;">116,414</div>
<div id="ml2" class="t" style="left:538.26px;top:407.93px;font-size:10.9px;line-height:10.9px;color:#3c4043;font-weight:400;letter-spacing:-0.195px;">Sessions</div>
<div id="mv2" class="t" style="left:538.76px;top:424.65px;font-size:19.6px;line-height:19.6px;color:#202124;font-weight:400;letter-spacing:0.000px;transform:scaleX(0.9567);">147,263</div>
<div id="ml3" class="t" style="left:691.39px;top:407.93px;font-size:10.9px;line-height:10.9px;color:#3c4043;font-weight:400;letter-spacing:0.000px;transform:scaleX(0.9437);">Number of Sessions per User</div>
<div id="mv3" class="t" style="left:691.63px;top:424.65px;font-size:19.6px;line-height:19.6px;color:#202124;font-weight:400;letter-spacing:0.034px;">1.17</div>
<div id="ml4" class="t" style="left:844.37px;top:407.93px;font-size:10.9px;line-height:10.9px;color:#3c4043;font-weight:400;letter-spacing:0.000px;transform:scaleX(0.9619);">Pageviews</div>
<div id="mv4" class="t" style="left:844.65px;top:424.65px;font-size:19.6px;line-height:19.6px;color:#202124;font-weight:400;letter-spacing:-0.306px;">179,937</div>
<div id="ml20" class="t" style="left:231.92px;top:489.08px;font-size:10.9px;line-height:10.9px;color:#3c4043;font-weight:400;letter-spacing:0.000px;transform:scaleX(0.9550);">Pages / Session</div>
<div id="mv20" class="t" style="left:232.65px;top:505.55px;font-size:19.6px;line-height:19.6px;color:#202124;font-weight:400;letter-spacing:0.069px;">1.22</div>
<div id="ml21" class="t" style="left:386.32px;top:489.08px;font-size:10.9px;line-height:10.9px;color:#3c4043;font-weight:400;letter-spacing:0.000px;transform:scaleX(0.9346);">Avg. Session Duration</div>
<div id="mv21" class="t" style="left:385.63px;top:505.55px;font-size:19.6px;line-height:19.6px;color:#202124;font-weight:400;letter-spacing:-0.328px;">00:00:39</div>
<div id="ml22" class="t" style="left:538.36px;top:489.08px;font-size:10.9px;line-height:10.9px;color:#3c4043;font-weight:400;letter-spacing:0.000px;transform:scaleX(0.9359);">Bounce Rate</div>
<div id="mv22" class="t" style="left:538.36px;top:505.55px;font-size:19.6px;line-height:19.6px;color:#202124;font-weight:400;letter-spacing:0.000px;transform:scaleX(0.9386);">87.31%</div>
<div id="pl1" class="t" style="left:1096.24px;top:391.98px;font-size:10.9px;line-height:10.9px;color:#333;font-weight:400;letter-spacing:-0.154px;">New Visitor</div>
<div id="pl2" class="t" style="left:1173.28px;top:391.98px;font-size:10.9px;line-height:10.9px;color:#333;font-weight:400;letter-spacing:-0.127px;">Returning Visitor</div>
<div class="a" style="left:0;top:507px;width:1355px;height:26px;background:linear-gradient(rgba(0,0,0,0),rgba(0,0,0,0.05))"></div>
</body></html>
